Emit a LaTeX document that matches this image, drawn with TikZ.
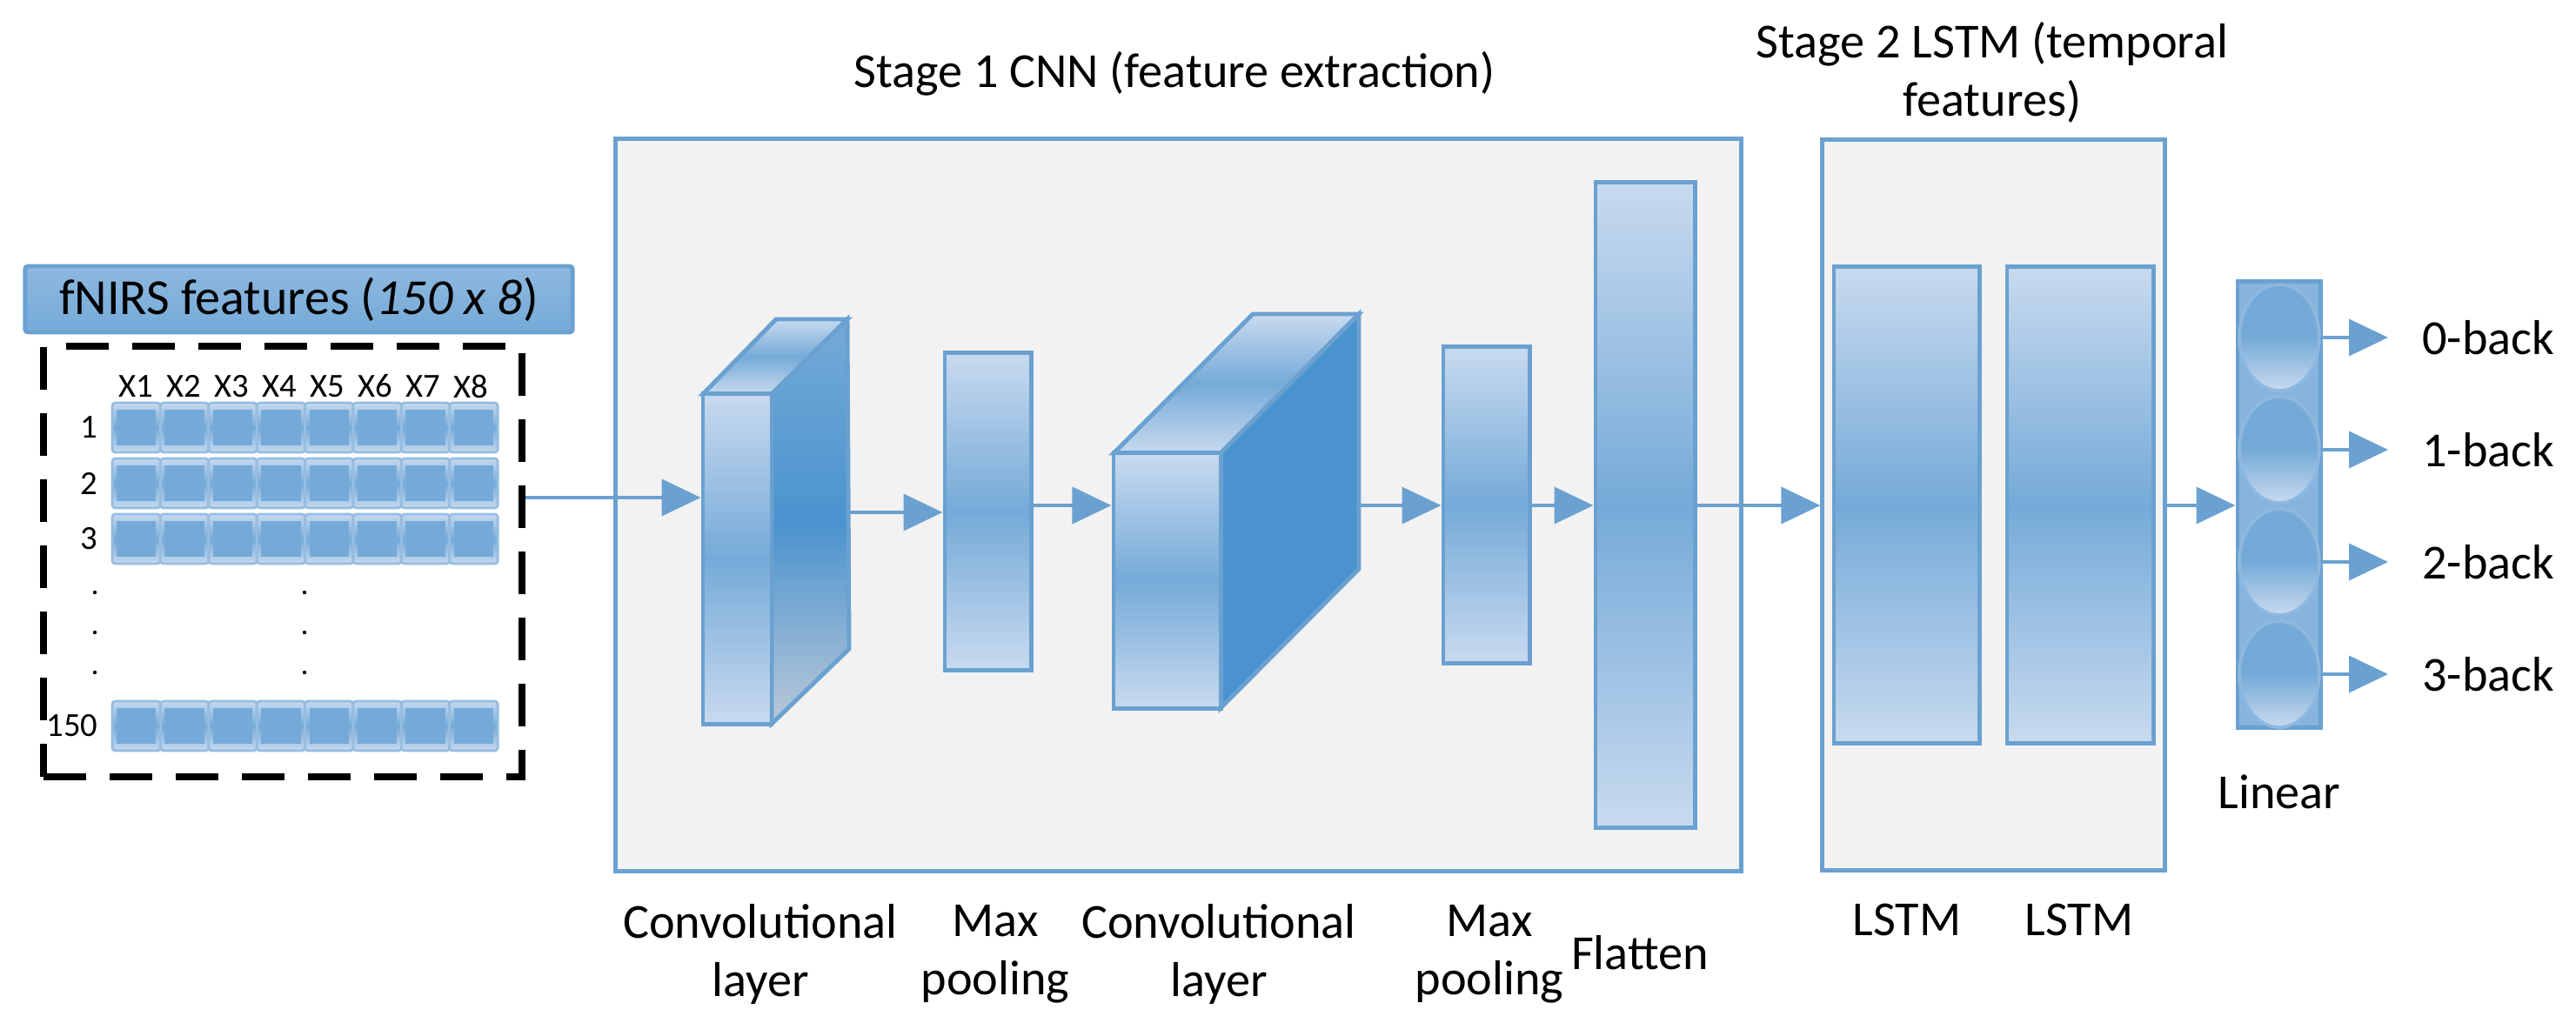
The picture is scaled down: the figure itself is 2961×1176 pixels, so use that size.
\documentclass[tikz,border=0pt]{standalone}
\usepackage{fontspec}
\setmainfont{Carlito}
\usetikzlibrary{arrows.meta}
\definecolor{bl}{HTML}{6AA1D0}
\definecolor{mid}{HTML}{75AAD8}
\definecolor{lt}{HTML}{C8DAEF}
\definecolor{dk}{HTML}{4A93CE}
\definecolor{gry}{HTML}{F2F2F2}
\begin{document}
\begin{tikzpicture}[x=0.01cm,y=-0.01cm,
  edge/.style={draw=bl,line width=1.1pt,-{Triangle[length=0.45cm,width=0.42cm]}},
  grad/.style={draw=bl,line width=1.4pt,top color=lt,bottom color=lt,middle color=mid},
  blk/.style={grad,inner sep=0pt},
  stage/.style={draw=bl,line width=1.4pt,fill=gry},
  lab/.style={font=\fontsize{16}{19}\selectfont,align=center,text=black},
  small/.style={font=\fontsize{11}{13}\selectfont}]
\useasboundingbox (0,0) rectangle (2961,1176);
% titles
\node[lab] (t1) at (1350,85) {Stage 1 CNN (feature extraction)};
\node[lab] (t2) at (2290,83) {Stage 2 LSTM (temporal\\features)};
% stage boxes
\node[stage,minimum width=12.93cm,minimum height=8.41cm,inner sep=0pt] (cnn) at (1354.5,580.5) {};
\node[stage,minimum width=3.93cm,minimum height=8.39cm,inner sep=0pt] (lstmbox) at (2291.5,580.5) {};
% input
\node[draw=bl,line width=1.4pt,top color=mid!70!lt,bottom color=mid,rounded corners=1pt,minimum width=6.29cm,minimum height=0.76cm,font=\fontsize{16.5}{19}\selectfont] (hdr) at (343.5,344) {fNIRS features (\textit{150 x 8})};
\node[draw=black,line width=2.2pt,dash pattern=on 0.49cm off 0.27cm,minimum width=5.5cm,minimum height=4.95cm,inner sep=0pt] (inp) at (325,645.5) {};
\foreach \i in {1,...,8}{\node[small] (c\i) at (101+55*\i,444) {X\i};}
\foreach \r/\y in {1/463,2/527,3/591,150/806}{
  \node[small,anchor=east] (r\r) at (125,\y+28.5) {\r};
  \foreach \i in {0,...,7}{
    \draw[draw=mid!60!lt,line width=0.8pt,rounded corners=1pt,top color=lt,bottom color=lt,middle color=mid] (129+55.4*\i,\y) rectangle ++(55.4,57);
    \fill[mid] (129+55.4*\i+5,\y+8) rectangle ++(45.4,41);
  }
}
\foreach \y in {681,727,773}{\fill (109,\y) circle (2.2); \fill (350,\y) circle (2.2);}
% conv1
\draw[grad] (808,453) -- (892,367) -- (974,367) -- (887,453) -- cycle;
\draw[draw=bl,line width=1.4pt,top color=mid,bottom color=lt!80!gray,middle color=dk] (887,453) -- (974,367) -- (976,746) -- (887,832) -- cycle;
\node[blk,minimum width=0.79cm,minimum height=3.79cm] (conv1) at (847.5,642.5) {};
\coordinate (conv1r) at (976,589);
% maxpool1
\node[blk,minimum width=0.99cm,minimum height=3.64cm] (mp1) at (1135.5,588) {};
% conv2
\draw[grad] (1280,521) -- (1440,361) -- (1562,361) -- (1403,521) -- cycle;
\draw[draw=bl,line width=1.4pt,fill=dk] (1403,521) -- (1562,361) -- (1562,654) -- (1403,814) -- cycle;
\node[blk,minimum width=1.23cm,minimum height=2.93cm] (conv2) at (1341.5,667.5) {};
\coordinate (conv2r) at (1562,581);
% maxpool2
\node[blk,minimum width=0.99cm,minimum height=3.63cm] (mp2) at (1708.5,580.5) {};
% flatten
\node[blk,minimum width=1.14cm,minimum height=7.41cm] (flat) at (1891,580.5) {};
% lstm
\node[blk,minimum width=1.67cm,minimum height=5.47cm] (l1) at (2191.5,580.5) {};
\node[blk,minimum width=1.68cm,minimum height=5.47cm] (l2) at (2391,580.5) {};
% linear
\node[draw=bl,line width=1.4pt,fill=mid!80!lt,minimum width=0.95cm,minimum height=5.12cm,inner sep=0pt] (lin) at (2619.5,580) {};
\foreach \k/\y in {0/388,1/517,2/646,3/775}{
  \draw[draw=mid!70!lt,line width=1pt,top color=mid,bottom color=lt,middle color=mid] (2620,\y) ellipse (46 and 61);
  \coordinate (o\k) at (2667,\y);
  \coordinate (e\k) at (2745,\y);
  \draw[edge] (o\k) -- (e\k);
  \node[lab,anchor=west] (out\k) at (2772,\y) {\k-back};
}
% connectors
\draw[edge] (inp.east |- 0,572) -- (conv1.west |- 0,572);
\draw[edge] (conv1r) -- (mp1.west |- conv1r);
\draw[edge] (mp1.east |- 0,581) -- (conv2.west |- 0,581);
\draw[edge] (conv2r) -- (mp2.west |- conv2r);
\draw[edge] (mp2.east |- 0,581) -- (flat.west |- 0,581);
\draw[edge] (flat.east |- 0,581) -- (lstmbox.west |- 0,581);
\draw[edge] (lstmbox.east |- 0,581) -- (lin.west |- 0,581);
% labels
\node[lab] (lc1) at (874,1097) {Convolutional\\layer};
\node[lab] (lm1) at (1144,1097) {Max\\pooling};
\node[lab] (lc2) at (1401,1097) {Convolutional\\layer};
\node[lab] (lm2) at (1712,1097) {Max\\pooling};
\node[lab] (lf) at (1885,1095) {Flatten};
\node[lab] (ll1) at (2192,1057) {LSTM};
\node[lab] (ll2) at (2390,1057) {LSTM};
\node[lab] (llin) at (2620,910) {Linear};
\end{tikzpicture}
\end{document}
